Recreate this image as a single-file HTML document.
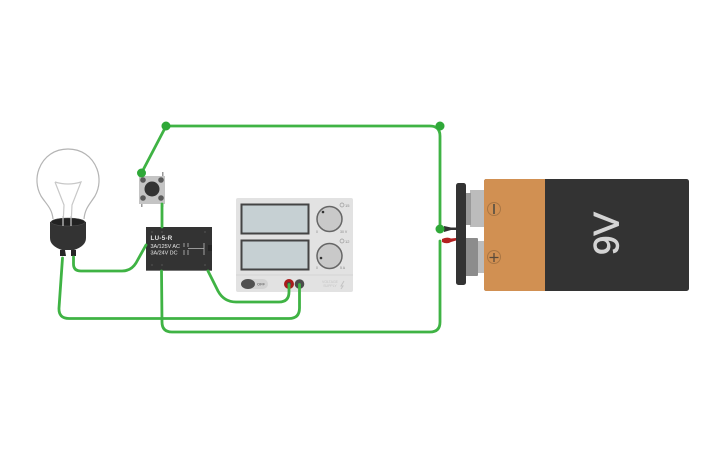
<!DOCTYPE html>
<html><head><meta charset="utf-8"><style>html,body{margin:0;padding:0;background:#fff;width:725px;height:453px;overflow:hidden}svg{display:block}text{font-family:"Liberation Sans",sans-serif}</style></head><body>
<svg width="725" height="453" viewBox="0 0 725 453" xmlns="http://www.w3.org/2000/svg">
<!-- bulb -->
<path d="M53 219 C52 208 46 204 41 196 C36 187 36 177 39 169 C44 156 55 149 68 149 C81 149 92 156 97 169 C100 177 100 187 95 196 C90 204 85 208 84 219" fill="#fff" stroke="#b4b4b4" stroke-width="1.200"/>
<path d="M55 182 Q68 186 81 182 L72 205 L71 226 M55 182 L64 205 L63 226" fill="none" stroke="#c8c8c8" stroke-width="1.200"/>
<path d="M50 222 Q68 214 86 222 V238 Q86 246 74 250 H62 Q50 246 50 238 Z" fill="#333"/>
<ellipse cx="68" cy="222" rx="17" ry="4" fill="#222" stroke="#555" stroke-width=".5"/>
<path d="M63 216 V226 M71 216 V226" stroke="#c8c8c8" stroke-width="1.200"/>
<path d="M60 250 H65 L66 256 H60 Z M71 250 H76 L76 256 H71 Z" fill="#262626"/>
<!-- switch -->
<rect x="141" y="173" width="1.500" height="4" fill="#999"/><rect x="162" y="172" width="1.500" height="5" fill="#999"/>
<rect x="141" y="203" width="1.500" height="4" fill="#999"/><rect x="162" y="203" width="1.500" height="4" fill="#999"/>
<rect x="139" y="176" width="26" height="28" fill="#c4c4c4"/>
<circle cx="152" cy="189" r="7.500" fill="#333"/>
<circle cx="143" cy="180" r="2.800" fill="#5a5a5a"/><circle cx="161" cy="180" r="2.800" fill="#5a5a5a"/><circle cx="143" cy="198" r="2.800" fill="#5a5a5a"/><circle cx="161" cy="198" r="2.800" fill="#5a5a5a"/>
<!-- supply -->
<rect x="236" y="198" width="117" height="94" rx="2" fill="#e2e2e2"/>
<line x1="236" y1="275" x2="353" y2="275" stroke="#d4d4d4"/>
<rect x="241.500" y="204.500" width="67" height="29" fill="#c6d0d3" stroke="#444" stroke-width="2"/>
<rect x="241.500" y="240.500" width="67" height="29" fill="#c6d0d3" stroke="#444" stroke-width="2"/>
<circle cx="329.500" cy="219" r="12.500" fill="#c9c9c9" stroke="#666" stroke-width="1.500"/>
<circle cx="329.500" cy="256" r="12.500" fill="#c9c9c9" stroke="#666" stroke-width="1.500"/>
<circle cx="323" cy="212" r="1.300" fill="#333"/><circle cx="321" cy="258" r="1.300" fill="#333"/>
<circle cx="342" cy="205" r="2" fill="none" stroke="#999" stroke-width=".7"/><circle cx="342" cy="241" r="2" fill="none" stroke="#999" stroke-width=".7"/>
<text x="345" y="207" font-size="4" fill="#888">15</text><text x="345" y="243" font-size="4" fill="#888">12</text>
<text x="316" y="233" font-size="3.500" fill="#888">0</text><text x="340" y="233" font-size="3.500" fill="#888">30 V</text>
<text x="316" y="269" font-size="3.500" fill="#888">0</text><text x="340" y="269" font-size="3.500" fill="#888">5 A</text>
<rect x="241" y="279" width="27" height="10" rx="5" fill="#d2d2d2"/>
<ellipse cx="248" cy="284" rx="7" ry="5" fill="#505050"/>
<text x="257" y="285.500" font-size="4" font-weight="bold" fill="#777">OFF</text>
<text x="330" y="283" font-size="3.500" fill="#c4c4c4" text-anchor="middle">VOLTAGE</text><text x="330" y="287" font-size="3.500" fill="#c4c4c4" text-anchor="middle">SUPPLY</text>
<path d="M344 281 L341 286 H343 L341 289" fill="none" stroke="#c4c4c4"/>
<circle cx="289" cy="284" r="5" fill="#a81c1c"/><circle cx="289" cy="284" r="2" fill="#444"/>
<circle cx="299.500" cy="284" r="4.800" fill="#4b4b4b"/>
<!-- relay -->
<rect x="146" y="227" width="66" height="44" fill="#333"/>
<rect x="146" y="270" width="66" height="1" fill="#777"/>
<rect x="208" y="245" width="4" height="6" fill="#262626"/>
<g fill="#4a4a4a"><circle cx="152" cy="232" r="1"/><circle cx="162" cy="232" r="1"/><circle cx="205" cy="232" r="1"/><circle cx="152" cy="265" r="1"/><circle cx="162" cy="265" r="1"/><circle cx="205" cy="265" r="1"/></g>
<text x="150.500" y="240" font-size="6.200" font-weight="bold" fill="#e4e4e4" letter-spacing=".3">LU-5-R</text>
<text x="150.500" y="248" font-size="5.400" fill="#d4d4d4" stroke="#d4d4d4" stroke-width=".1">3A/125V AC</text>
<text x="150.500" y="254.500" font-size="5.400" fill="#d4d4d4" stroke="#d4d4d4" stroke-width=".1">3A/24V  DC</text>
<path d="M184 243 V247 M184 250 V255 M188 243 V247 M188 250 V255 M188 248.500 H204 M204 243 V255" stroke="#bbb" stroke-width=".8" fill="none"/>
<!-- battery -->
<rect x="484" y="179" width="205" height="112" rx="2.500" fill="#333"/>
<path d="M486.500 179 H545 V291 H486.500 Q484 291 484 288.500 V181.500 Q484 179 486.500 179 Z" fill="#d19052"/>
<rect x="470" y="190" width="14" height="37" fill="#bcbcbc"/>
<rect x="465" y="193" width="6" height="32" fill="#999"/>
<rect x="478" y="241" width="6" height="32" fill="#bcbcbc"/>
<rect x="465" y="238" width="13" height="38" rx="1" fill="#8c8c8c"/>
<rect x="456" y="183" width="10" height="102" rx="2.500" fill="#333"/>
<circle cx="494" cy="209" r="6.500" fill="none" stroke="#a97644"/>
<circle cx="494" cy="257" r="6.500" fill="none" stroke="#a97644"/>
<rect x="493" y="204" width="2" height="10" fill="#6b5a45"/>
<path d="M489.500 257.500 H498.500 M494 253 V262" stroke="#5a4a3a" stroke-width="1.300"/>
<text transform="translate(618.500,255) rotate(-90)" font-size="35" fill="#d4d4d4" stroke="#d4d4d4" stroke-width=".9">9V</text>
<path d="M444 226 L451 227.500 H456 V230 H451 L444 232 Z" fill="#333"/>
<path d="M442 239 Q447 236.500 451 238.500 L456 238 V240.500 L451 242 Q447 244.500 442 242 Z" fill="#b32020"/>
<!-- wires -->
<g fill="none" stroke="#3fb344" stroke-width="2.800" stroke-linecap="round" stroke-linejoin="round">
<path d="M141.500 173 L164 130 Q166 126 171 126 H430 Q440 126 440 136 V229"/>
<path d="M440 241 V322 Q440 332 430 332 H172 Q162 332 162 322 L161.500 271"/>
<path d="M162 204 V227"/>
<path d="M62.500 258 L59 308 Q58.500 318.500 69 318.500 H289 Q299.500 318.500 299.500 308 V284.500"/>
<path d="M73.500 257 V264 Q73.500 271 81 271 H122 Q131 271 136 263 L146 245"/>
<path d="M208 271 L218 291 Q224 302 236 302 H279 Q289 302 289 292 V284.500"/>
</g>
<g fill="#2fa838"><circle cx="166" cy="126" r="4.500"/><circle cx="440" cy="126" r="4.500"/><circle cx="141.500" cy="173" r="4.500"/><circle cx="440" cy="229" r="4.500"/></g>
</svg>
</body></html>
